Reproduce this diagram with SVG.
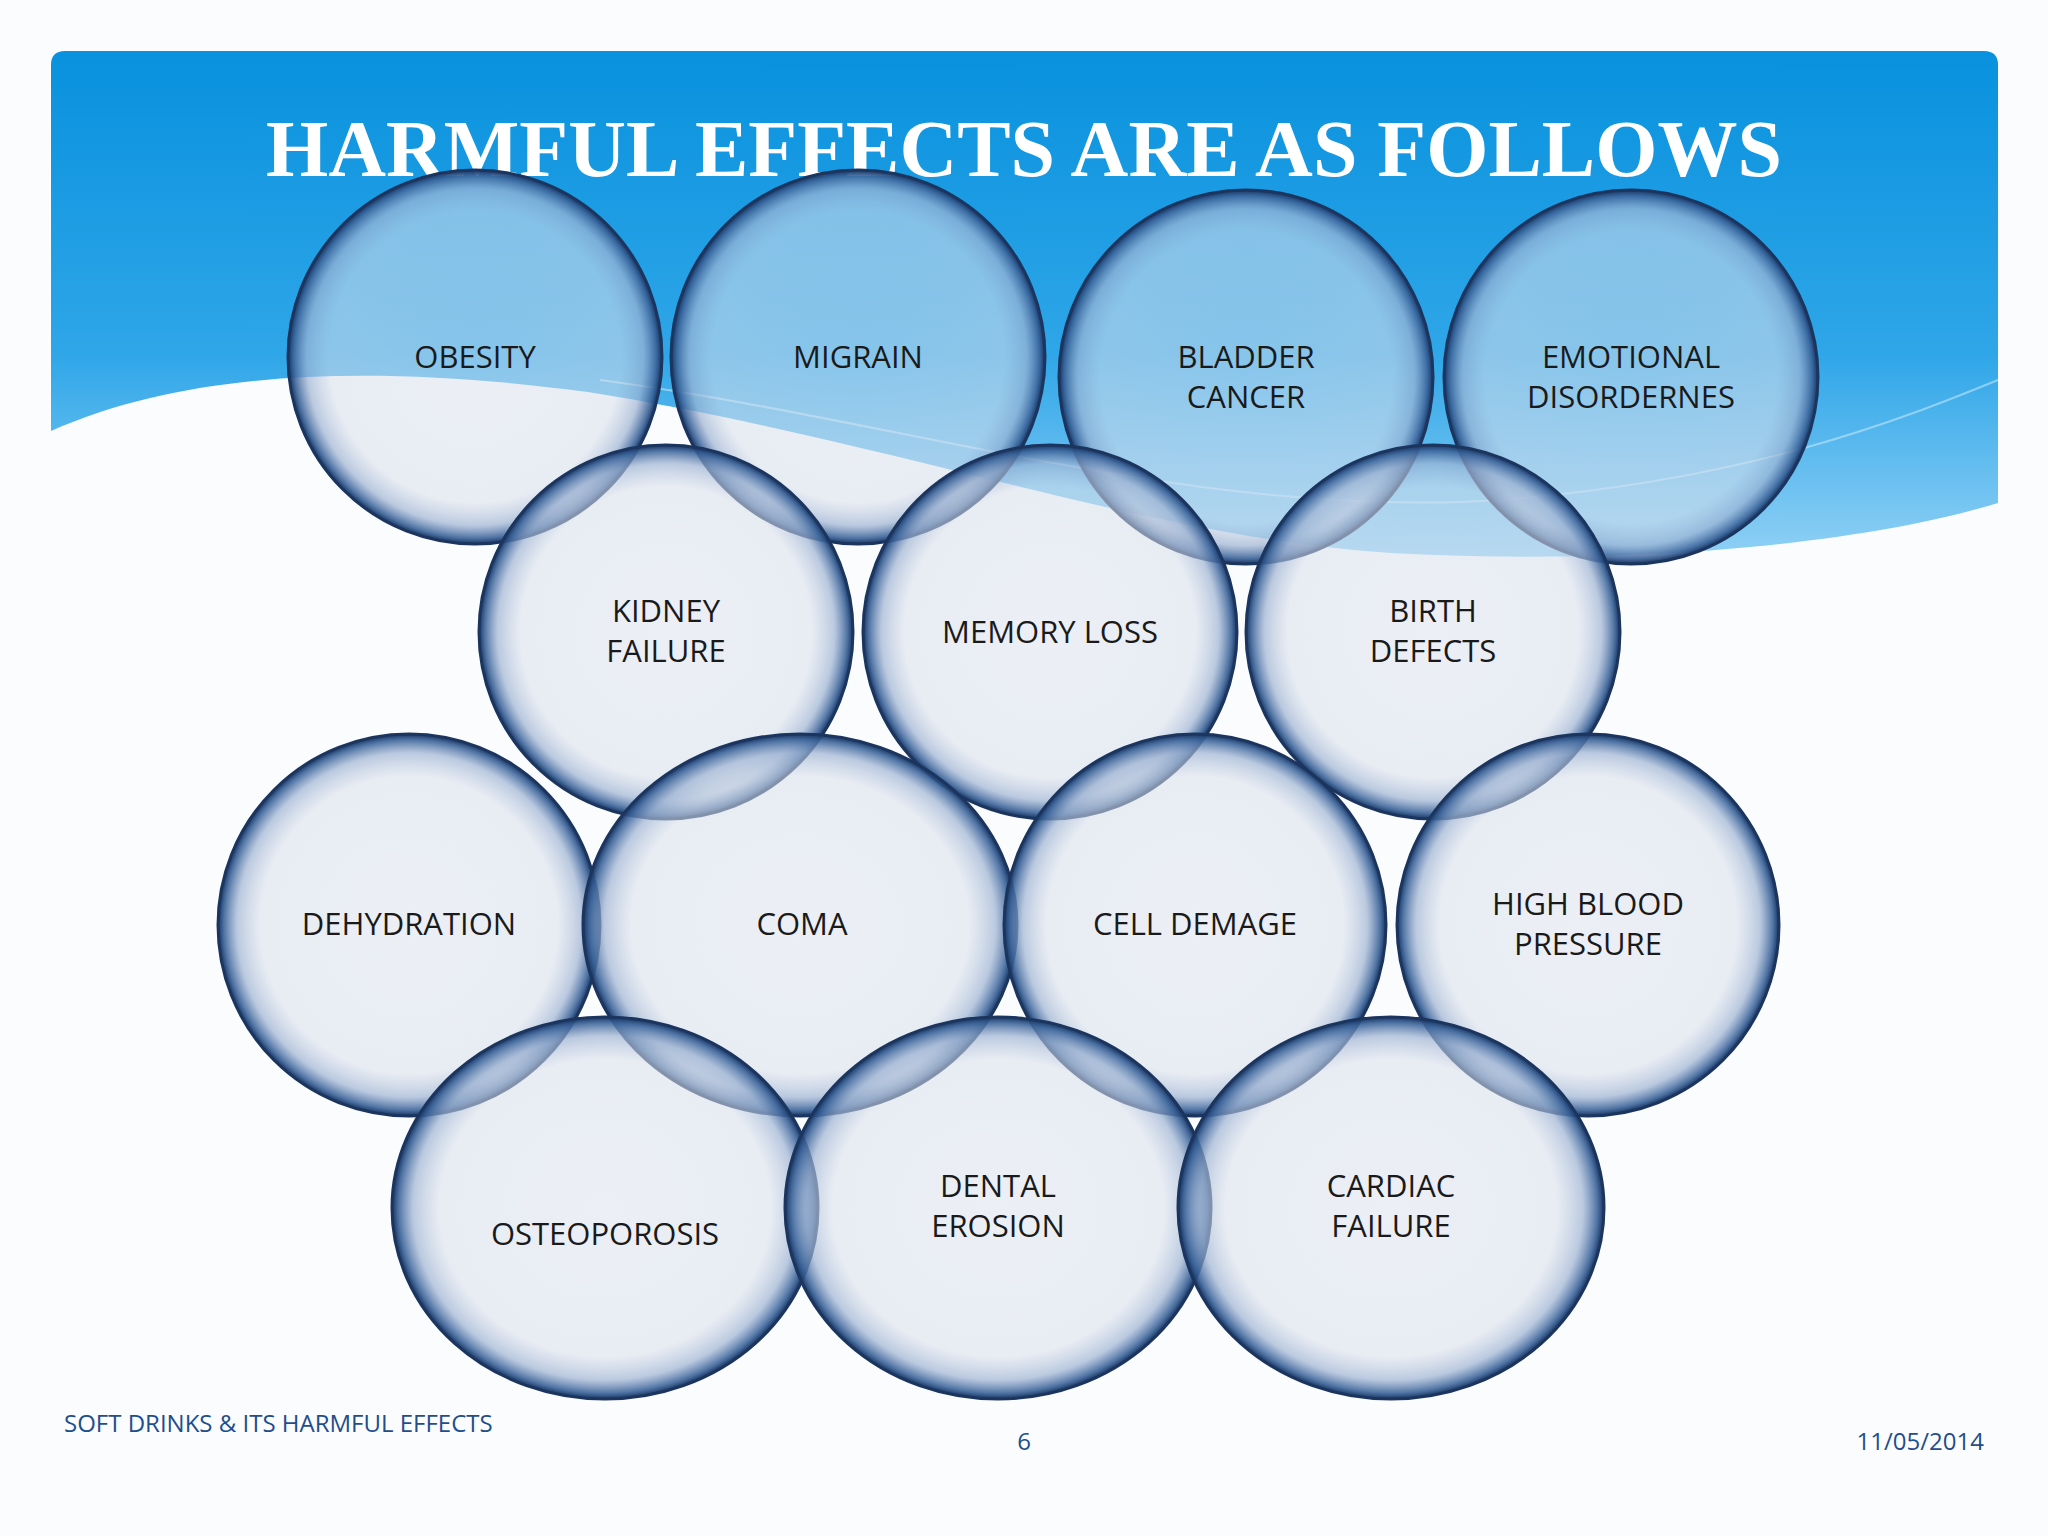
<svg xmlns="http://www.w3.org/2000/svg" width="2048" height="1536" viewBox="0 0 2048 1536">
<defs>
<linearGradient id="bg" x1="0" y1="0" x2="0" y2="1">
<stop offset="0" stop-color="#0891de"/><stop offset="0.6" stop-color="#2fa6e8"/><stop offset="1" stop-color="#8fd0f5"/>
</linearGradient>
<radialGradient id="lens" cx="0.5" cy="0.5" r="0.5">
<stop offset="0" stop-color="#dde3ee" stop-opacity="0.5"/>
<stop offset="0.78" stop-color="#d8dfeb" stop-opacity="0.55"/>
<stop offset="0.9" stop-color="#9fb4d3" stop-opacity="0.7"/>
<stop offset="0.97" stop-color="#3a6399" stop-opacity="0.9"/>
<stop offset="1" stop-color="#17335f" stop-opacity="1"/>
</radialGradient>
<style>
.c{fill:url(#lens);stroke:#1b355f;stroke-width:3}
.t{font-family:"Open Sans","Liberation Sans",sans-serif;font-size:31px;fill:#1a1a1a;text-anchor:middle}
.f{font-family:"Open Sans","Liberation Sans",sans-serif;font-size:24px;fill:#1f4e8c}
</style>
</defs>
<rect width="2048" height="1536" fill="#fbfcfd"/>
<path d="M51,431 C196,366 392,366 588,392 C914,444 1175,549 1437,555 C1698,564 1894,535 1998,503 L1998,65 Q1998,51 1984,51 L65,51 Q51,51 51,65 Z" fill="url(#bg)"/>
<path d="M600,380 C900,420 1200,520 1500,500 C1750,480 1900,420 1998,380" fill="none" stroke="#bfe6fb" stroke-width="2" opacity="0.6"/>
<text x="1024" y="176" font-family="Liberation Serif,serif" font-weight="bold" font-size="80" fill="#ffffff" text-anchor="middle">HARMFUL EFFECTS ARE AS FOLLOWS</text>
<g id="obesity"><circle class="c" cx="475" cy="357" r="187"/><text class="t" x="475" y="368">OBESITY</text></g>
<g id="migrain"><circle class="c" cx="858" cy="357" r="187"/><text class="t" x="858" y="368">MIGRAIN</text></g>
<g id="bladder"><circle class="c" cx="1246" cy="377" r="187"/><text class="t" x="1246" y="368">BLADDER</text><text class="t" x="1246" y="408">CANCER</text></g>
<g id="emotional"><circle class="c" cx="1631" cy="377" r="187"/><text class="t" x="1631" y="368">EMOTIONAL</text><text class="t" x="1631" y="408">DISORDERNES</text></g>
<g id="kidney"><circle class="c" cx="666" cy="632" r="187"/><text class="t" x="666" y="622">KIDNEY</text><text class="t" x="666" y="662">FAILURE</text></g>
<g id="memory"><circle class="c" cx="1050" cy="632" r="187"/><text class="t" x="1050" y="643">MEMORY LOSS</text></g>
<g id="birth"><circle class="c" cx="1433" cy="632" r="187"/><text class="t" x="1433" y="622">BIRTH</text><text class="t" x="1433" y="662">DEFECTS</text></g>
<g id="dehydration"><circle class="c" cx="409" cy="925" r="191"/><text class="t" x="409" y="935">DEHYDRATION</text></g>
<g id="coma"><ellipse class="c" cx="800" cy="925" rx="217" ry="191"/><text class="t" x="802" y="935">COMA</text></g>
<g id="cell"><circle class="c" cx="1195" cy="925" r="191"/><text class="t" x="1195" y="935">CELL DEMAGE</text></g>
<g id="hbp"><circle class="c" cx="1588" cy="925" r="191"/><text class="t" x="1588" y="915">HIGH BLOOD</text><text class="t" x="1588" y="955">PRESSURE</text></g>
<g id="osteo"><ellipse class="c" cx="605" cy="1208" rx="213" ry="191"/><text class="t" x="605" y="1245">OSTEOPOROSIS</text></g>
<g id="dental"><ellipse class="c" cx="998" cy="1208" rx="213" ry="191"/><text class="t" x="998" y="1197">DENTAL</text><text class="t" x="998" y="1237">EROSION</text></g>
<g id="cardiac"><ellipse class="c" cx="1391" cy="1208" rx="213" ry="191"/><text class="t" x="1391" y="1197">CARDIAC</text><text class="t" x="1391" y="1237">FAILURE</text></g>
<g id="connectors"/>
<text class="f" x="64" y="1432">SOFT DRINKS &amp; ITS HARMFUL EFFECTS</text>
<text class="f" x="1024" y="1450" text-anchor="middle">6</text>
<text class="f" x="1984" y="1450" text-anchor="end">11/05/2014</text>
</svg>
